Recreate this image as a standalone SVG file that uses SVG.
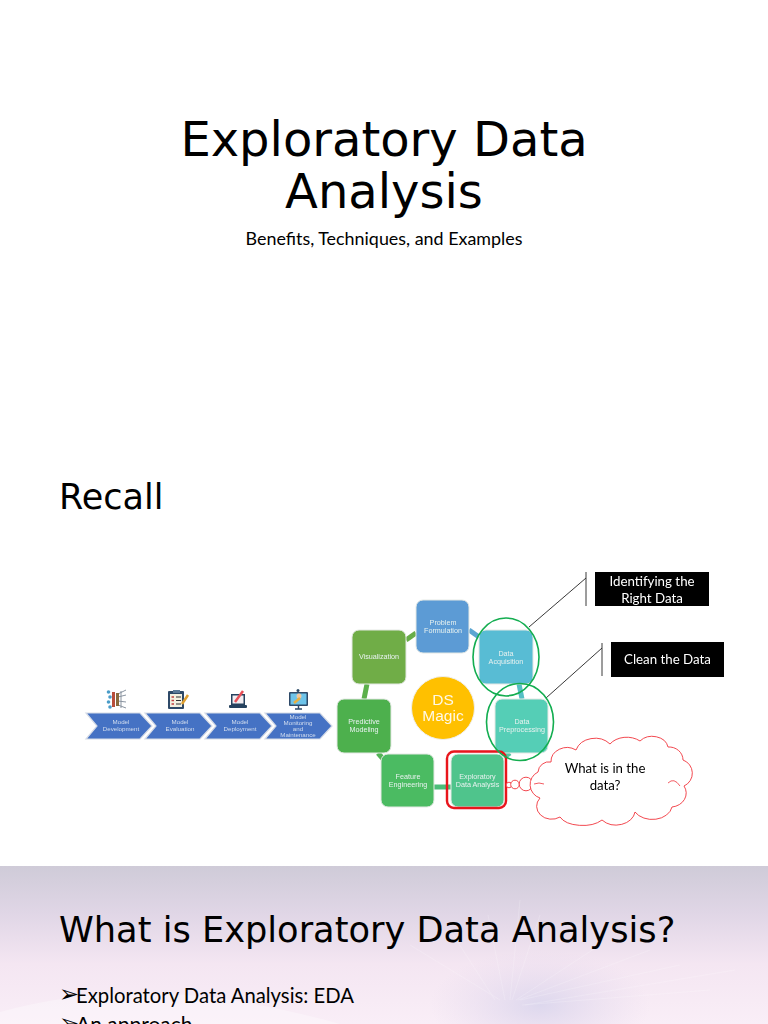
<svg xmlns="http://www.w3.org/2000/svg" width="768" height="1024" viewBox="0 0 768 1024">
<style>
.title{font-family:"DejaVu Sans",sans-serif;fill:#000}
.body{font-family:"Lato","Open Sans",sans-serif;fill:#000}
.n{stroke:#e4e8e4;stroke-width:1}
.nt{font-family:"Liberation Sans",Arial,sans-serif;font-size:7.2px;fill:#e8f2f0;text-anchor:middle}
.ct{font-family:"Liberation Sans",Arial,sans-serif;font-size:6.2px;fill:#d4deef;text-anchor:middle}
.bt{font-family:"Lato","Open Sans",sans-serif;font-size:13.3px;fill:#fff;text-anchor:middle}
.conn{fill:none;stroke-width:5}
.ring{fill:none;stroke:#12ad50;stroke-width:1.6}
.lead{fill:none;stroke:#222;stroke-width:.9}
.cloud{fill:#fff;stroke:#f0343c;stroke-width:.9}
.chev{fill:#4472c4;stroke:#d5dbe6;stroke-width:1.2}
.fan{stroke:#fff;stroke-width:.6;opacity:.3}
</style>
<defs>
<linearGradient id="bg" x1="0" y1="0" x2="0" y2="1">
<stop offset="0" stop-color="#cfcbd8"/><stop offset=".3" stop-color="#e0d6e6"/><stop offset=".62" stop-color="#f4e6f2"/><stop offset="1" stop-color="#f9eef7"/>
</linearGradient>
<radialGradient id="glow" cx=".5" cy=".5" r=".5">
<stop offset="0" stop-color="#d8d4ec" stop-opacity=".85"/><stop offset="1" stop-color="#e4d8ec" stop-opacity="0"/>
</radialGradient>
<filter id="soft" x="-5%" y="-5%" width="110%" height="110%"><feGaussianBlur stdDeviation=".35"/></filter>
<filter id="softer" x="-10%" y="-10%" width="120%" height="120%"><feGaussianBlur stdDeviation=".6"/></filter>
</defs>
<rect width="768" height="1024" fill="#fff"/>

<g id="slide1">
<text class="title" x="384" y="156" font-size="48" text-anchor="middle">Exploratory Data</text>
<text class="title" x="384" y="208" font-size="48" text-anchor="middle">Analysis</text>
<text class="body" x="384" y="245" font-size="17.9" text-anchor="middle">Benefits, Techniques, and Examples</text>
</g>

<g id="slide2-title"><text class="title" x="59" y="509" font-size="35">Recall</text></g>

<g id="connectors" filter="url(#soft)">
<path class="conn" stroke="#5ba6d2" d="M469,630L479,637"/>
<path class="conn" stroke="#68ad48" d="M406,640L416,633"/>
<path class="conn" stroke="#5cb04c" d="M364,699L367,684"/>
<path class="conn" stroke="#52b456" d="M378,753L384,760"/>
<path class="conn" stroke="#4bbd78" d="M434,787L451,787"/>
<path class="conn" stroke="#52c4a0" d="M504,757L510,753"/>
<path class="conn" stroke="#55bfc4" d="M519,684L522,699"/>
<path class="lead" d="M529,627L586,578M586,572V606"/>
<path class="lead" d="M546,698L602,648M602,643V676"/>
</g>

<g id="chevrons" filter="url(#soft)">
<g id="c1"><path class="chev" d="M86,713H140L152,726L140,739H86L97,726Z"/><text class="ct" x="121" y="724">Model</text><text class="ct" x="121" y="731">Development</text></g>
<g id="c2"><path class="chev" d="M145,713H200L212,726L200,739H145L156,726Z"/><text class="ct" x="180" y="724">Model</text><text class="ct" x="180" y="731">Evaluation</text></g>
<g id="c3"><path class="chev" d="M205,713H260L272,726L260,739H205L216,726Z"/><text class="ct" x="240" y="724">Model</text><text class="ct" x="240" y="731">Deployment</text></g>
<g id="c4"><path class="chev" d="M265,713H320L332,726L320,739H265L276,726Z"/><text class="ct" x="298" y="719">Model</text><text class="ct" x="298" y="725">Monitoring</text><text class="ct" x="298" y="731">and</text><text class="ct" x="298" y="737">Maintenance</text></g>
</g>

<g id="icons" filter="url(#softer)">
<g id="i1"><path d="M118,694L126,690M118,697L126,695M118,701L126,702M118,705L126,708M121,691V708" stroke="#8a94a0" stroke-width="1" fill="none"/><rect x="112" y="692" width="3" height="15" fill="#b8503c"/><rect x="116" y="693" width="3" height="13" fill="#8a6a3c"/><circle cx="108.500" cy="692" r="1.800" fill="#4a9cc8"/><circle cx="110" cy="697" r="1.800" fill="#4a9cc8"/><circle cx="108.500" cy="702" r="1.800" fill="#4a9cc8"/><circle cx="110" cy="707" r="1.800" fill="#4a9cc8"/></g>
<g id="i2"><rect x="168" y="691" width="16" height="18" rx="1" fill="#2e4a68"/><rect x="170" y="694" width="12" height="13" fill="#f4f0e0"/><rect x="173" y="690" width="7" height="3" fill="#5c7a98"/><path d="M171.500,697h2.500M171.500,700.500h2.500M171.500,704h2.500" stroke="#c04040" stroke-width="1.500"/><path d="M176,697h5M176,700.500h5M176,704h5" stroke="#333" stroke-width="1"/><path d="M182,704L188,695" stroke="#e0a030" stroke-width="2.500"/></g>
<g id="i3"><rect x="231" y="694" width="14" height="11" fill="#26435f"/><rect x="232.500" y="695.500" width="11" height="8" fill="#f2eef2"/><path d="M235,702L243,691" stroke="#e85058" stroke-width="2.500"/><rect x="229" y="705" width="18" height="3" rx="1" fill="#26435f"/></g>
<g id="i4"><rect x="289" y="692" width="19" height="14" rx="1" fill="#2e4a68"/><rect x="290.500" y="693.500" width="16" height="11" fill="#6ec4ea"/><circle cx="299" cy="696" r="2.500" fill="#f0c8a0"/><path d="M294,703L300,698" stroke="#e8b040" stroke-width="2.500"/><path d="M298.500,706v2.500M295,709h7" stroke="#2e4a68" stroke-width="1.500"/><circle cx="298" cy="690.500" r="1.500" fill="#2e4a68"/></g>
</g>

<g id="cycle" filter="url(#soft)">
<g id="n-problem"><rect class="n" x="416" y="600" width="53" height="53" rx="7" fill="#5b9bd5"/><text class="nt" x="443" y="625">Problem</text><text class="nt" x="443" y="633">Formulation</text></g>
<g id="n-acq"><rect class="n" x="479" y="630" width="54" height="54" rx="7" fill="#58bcd4"/><text class="nt" x="506" y="656">Data</text><text class="nt" x="506" y="664">Acquisition</text></g>
<g id="n-prep"><rect class="n" x="495" y="699" width="53" height="54" rx="7" fill="#55ceb6"/><text class="nt" x="522" y="724">Data</text><text class="nt" x="522" y="732">Preprocessing</text></g>
<g id="n-eda"><rect class="n" x="451" y="754" width="53" height="53" rx="7" fill="#4fc48c"/><text class="nt" x="477.500" y="779">Exploratory</text><text class="nt" x="477.500" y="787">Data Analysis</text></g>
<g id="n-feat"><rect class="n" x="381" y="754" width="53" height="53" rx="7" fill="#4cbb62"/><text class="nt" x="408" y="779">Feature</text><text class="nt" x="408" y="787">Engineering</text></g>
<g id="n-pred"><rect class="n" x="337" y="699" width="54" height="54" rx="7" fill="#4eb04e"/><text class="nt" x="364" y="724">Predictive</text><text class="nt" x="364" y="732">Modeling</text></g>
<g id="n-viz"><rect class="n" x="352" y="630" width="54" height="54" rx="7" fill="#70ad47"/><text class="nt" x="379" y="659">Visualization</text></g>
<g id="n-ds"><circle cx="443" cy="708" r="31.500" fill="#ffc000" stroke="#eee" stroke-width="1"/><text x="443" y="705" font-family="Liberation Sans,Arial,sans-serif" font-size="15.500" fill="#fff8e6" text-anchor="middle">DS</text><text x="443" y="721" font-family="Liberation Sans,Arial,sans-serif" font-size="15.500" fill="#fff8e6" text-anchor="middle">Magic</text></g>
<rect id="highlight" x="447" y="751.500" width="59" height="56.500" rx="7" fill="none" stroke="#e8141c" stroke-width="2.400"/>
<ellipse id="ring1" class="ring" cx="506" cy="657" rx="33" ry="39"/>
<ellipse id="ring2" class="ring" cx="520" cy="722" rx="33.500" ry="38.500"/>
</g>

<g id="cloud" filter="url(#soft)">
<circle class="cloud" cx="509" cy="785" r="2.800"/>
<circle class="cloud" cx="515" cy="784.500" r="4.300"/>
<circle class="cloud" cx="526" cy="784" r="6.800"/>
<path class="cloud" d="M538,772A11,11 0 0 1 551,762A16,14 0 0 1 576,750A20,17 0 0 1 610,744A20,15 0 0 1 640,741A16,13 0 0 1 668,747A14,13 0 0 1 683,760A14,14 0 0 1 684,786A16,14 0 0 1 672,807A20,15 0 0 1 635,812A19,15 0 0 1 602,820A24,13 0 0 1 560,817A15,13 0 0 1 540,798A14,14 0 0 1 538,772Z"/>
<path d="M534,784q5,-2 10,0M668,783q6,-6 12,3" fill="none" stroke="#f0343c" stroke-width=".8"/>
<text x="605" y="773" class="body" font-size="13.200" text-anchor="middle">What is in the</text>
<text x="605" y="790" class="body" font-size="13.200" text-anchor="middle">data?</text>
</g>

<g id="callout1" filter="url(#soft)"><rect x="595" y="572" width="114" height="34" fill="#000"/><text class="bt" x="652" y="586">Identifying the</text><text class="bt" x="652" y="603">Right Data</text></g>
<g id="callout2" filter="url(#soft)"><rect x="611" y="642" width="113" height="35" fill="#000"/><text class="bt" x="667.500" y="664">Clean the Data</text></g>

<g id="slide3">
<rect x="0" y="866" width="768" height="158" fill="url(#bg)"/>
<ellipse cx="540" cy="1005" rx="110" ry="55" fill="url(#glow)"/>
<path d="M0,1012C100,985 200,985 340,1024H0Z" fill="#fff" opacity=".3"/>
<g id="fan">
<path class="fan" d="M510,1000L520,900M505,1000L488,915M512,1000L540,915M516,1000L600,945M520,1000L680,965M525,1005L735,970M500,1000L410,945M518,1000L650,950M495,1000L450,930M522,1005L710,990"/>
</g>
<text class="title" x="59" y="942" font-size="35.200">What is Exploratory Data Analysis?</text>
<text x="59" y="1002" font-family="DejaVu Sans,sans-serif" font-size="24" fill="#000">➢</text>
<text class="body" x="76" y="1003" font-size="21" textLength="278" lengthAdjust="spacingAndGlyphs">Exploratory Data Analysis: EDA</text>
<text x="59" y="1031" font-family="DejaVu Sans,sans-serif" font-size="24" fill="#000">➢</text>
<text class="body" x="76" y="1032" font-size="21">An approach</text>
</g>
</svg>
